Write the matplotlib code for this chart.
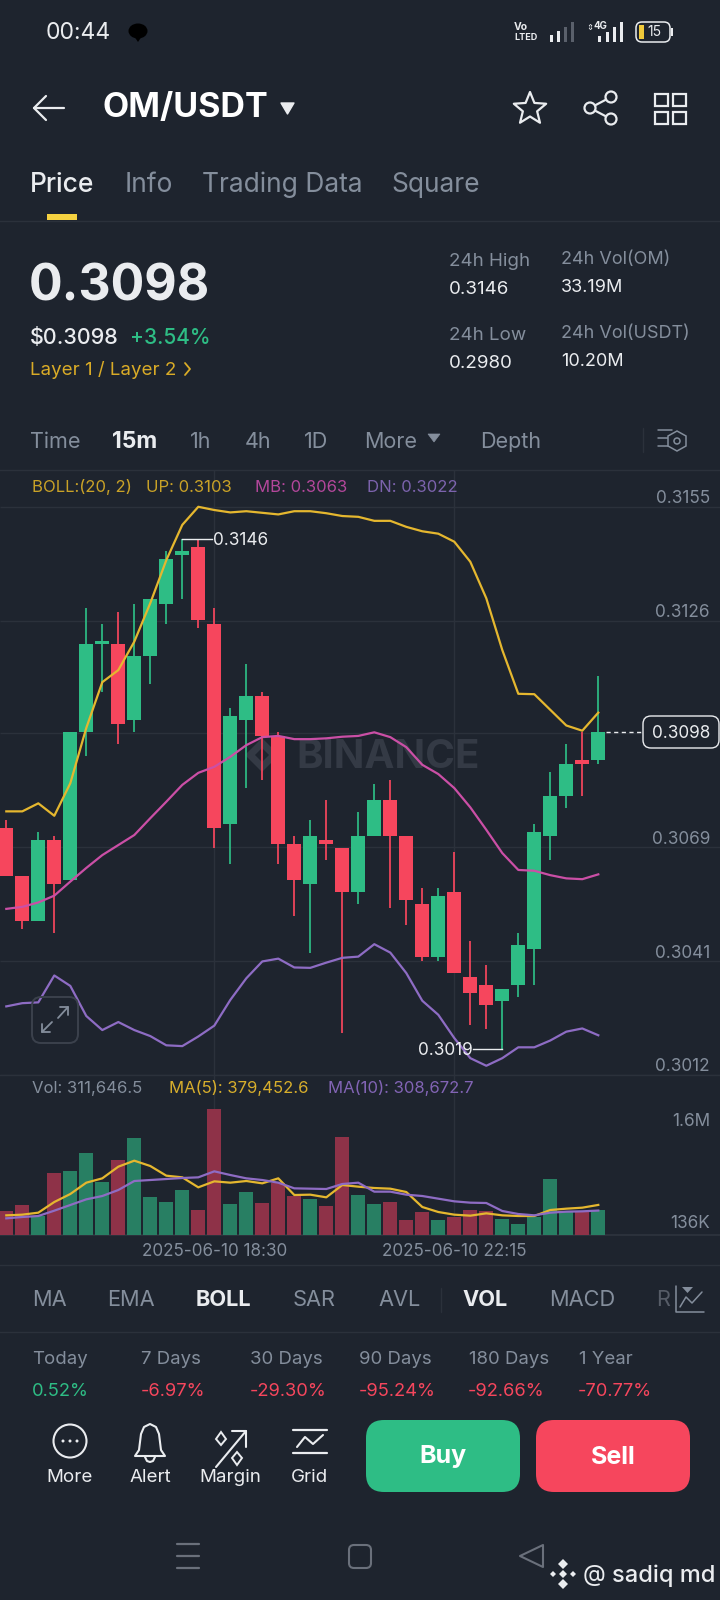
import numpy as np
import matplotlib
matplotlib.use("Agg")
import matplotlib.pyplot as plt
from matplotlib.patches import FancyBboxPatch, Polygon, Circle, Rectangle, Ellipse

plt.rcParams['font.family'] = ['Inter', 'DejaVu Sans']

# ---------- data ----------
opens  = [.3074,.3062,.3051,.3071,.3061,.3098,.3120,.3120,.3101,.3117,.3130,.3142,.3144,.3125,.3075,.3101,.3107,.3097,.3070,.3060,.3071,.3069,.3058,.3072,.3081,.3072,.3055,.3042,.3058,.3037,.3035,.3031,.3035,.3044,.3072,.3082,.3091,.3091]
highs  = [.3076,.3062,.3073,.3072,.3098,.3129,.3125,.3128,.3130,.3131,.3143,.3146,.3146,.3129,.3104,.3115,.3108,.3098,.3072,.3076,.3081,.3069,.3078,.3085,.3086,.3072,.3059,.3059,.3068,.3046,.3040,.3034,.3048,.3075,.3088,.3095,.3098,.3112]
lows   = [.3062,.3049,.3051,.3048,.3061,.3092,.3108,.3095,.3098,.3110,.3125,.3131,.3124,.3069,.3065,.3084,.3086,.3065,.3052,.3043,.3066,.3023,.3055,.3072,.3054,.3050,.3041,.3041,.3038,.3025,.3024,.3019,.3032,.3035,.3066,.3079,.3082,.3090]
closes = [.3062,.3051,.3071,.3060,.3098,.3120,.3120,.3100,.3117,.3131,.3141,.3143,.3126,.3074,.3102,.3107,.3097,.3070,.3061,.3072,.3070,.3058,.3072,.3081,.3072,.3056,.3042,.3057,.3038,.3033,.3030,.3034,.3045,.3073,.3082,.3090,.3090,.3098]
boll_up = [.30782,.30782,.30802,.30771,.30852,.30990,.31104,.31134,.31205,.31301,.31408,.31496,.31541,.31533,.31527,.31530,.31526,.31522,.31530,.31530,.31525,.31518,.31516,.31506,.31506,.31491,.31480,.31474,.31454,.31404,.31313,.31184,.31075,.31074,.31035,.30996,.30983,.31028]
boll_mb = [.30539,.30544,.30555,.30572,.30607,.30641,.30673,.30698,.30723,.30765,.30806,.30848,.30878,.30893,.30918,.30947,.30967,.30970,.30962,.30962,.30964,.30968,.30970,.30979,.30967,.30942,.30898,.30875,.30840,.30792,.30736,.30678,.30636,.30634,.30623,.30615,.30613,.30625]
boll_dn = [.30296,.30304,.30306,.30373,.30347,.30272,.30237,.30257,.30237,.30222,.30199,.30197,.30221,.30248,.30312,.30366,.30408,.30415,.30393,.30392,.30405,.30417,.30420,.30451,.30430,.30379,.30310,.30275,.30217,.30167,.30148,.30167,.30194,.30194,.30211,.30233,.30241,.30224]
volume = [298555,382655,243890,782130,803155,1030225,672800,946125,1219450,483575,412090,563470,315375,1589490,395270,546650,407885,651775,491985,458345,365835,1240475,504600,386860,412090,185020,290145,189225,231275,315375,302760,206045,138765,231275,706440,294350,285940,311646.5]
vol_ma5 = [248000,256500,281700,416300,517200,660200,714900,862000,937700,870400,748500,727500,601300,677000,660200,681200,651800,714900,504600,508800,475200,630800,609700,592900,584500,542400,353200,290100,256500,243900,273300,248100,239700,239700,315400,332200,344800,379452.6]
vol_ma10 = [210300,227100,239700,307000,378500,449900,492000,567700,681200,693800,706400,719100,727500,803200,756900,714900,693800,660200,588700,584500,580300,643400,660200,546700,546700,508800,492000,458300,424700,407900,403700,302800,264900,248100,281700,294400,298600,308672.7]
price_ticks = [.31541,.31257,.30692,.30408,.30125]
price_labels = ["0.3155","0.3126","0.3069","0.3041","0.3012"]
last_price = .3098
date_idx = [13, 28]
date_labels = ["2025-06-10 18:30","2025-06-10 22:15"]

BG='#1e242e'; GRID='#2b313b'; GREY='#848e9c'; DIM='#6f7785'; WHITE='#eaecef'
GREEN='#2ebd85'; RED='#f6465d'; VGREEN='#287f63'; VRED='#8e3248'
YEL='#e5b72f'; MAG='#cb4fa6'; PUR='#8e6cc4'

W,H=720,1600
fig=plt.figure(figsize=(W/100,H/100),dpi=100,facecolor=BG)
def axpx(x0,y0,x1,y1,z):
    a=fig.add_axes([x0/W,1-y1/H,(x1-x0)/W,(y1-y0)/H],zorder=z)
    a.patch.set_visible(False); a.set_axis_off()
    return a

back=axpx(0,0,W,H,0); back.set_xlim(0,W); back.set_ylim(H,0)
main=axpx(0,470,W,1075,1)
volax=axpx(0,1075,W,1235,1)
ui=axpx(0,0,W,H,2); ui.set_xlim(0,W); ui.set_ylim(H,0)

# ---------- main chart ----------
X=np.arange(len(opens))
xlim=(-6.3/16,(W-6.3)/16)
main.set_xlim(*xlim); main.set_ylim(.301250,.316327)
volax.set_xlim(*xlim); volax.set_ylim(0,2018720)

for a in (main,volax):
    for d in date_idx:
        a.axvline(d,color=GRID,lw=1,zorder=1)
main.hlines(price_ticks+[.30977],*xlim,color=GRID,lw=1,zorder=1)
volax.axhline(0,color=GRID,lw=1.5,zorder=1,clip_on=False)

cols=[GREEN if c>=o else RED for o,c in zip(opens,closes)]
main.vlines(X,lows,highs,colors=cols,lw=1.25,zorder=3)
bott=[min(o,c) for o,c in zip(opens,closes)]
hts=[max(abs(c-o),.00006) for o,c in zip(opens,closes)]
main.bar(X,hts,bottom=bott,width=.875,color=cols,zorder=3)
main.plot(X,boll_up,color=YEL,lw=1.6,zorder=4)
main.plot(X,boll_mb,color=MAG,lw=1.6,zorder=4)
main.plot(X,boll_dn,color=PUR,lw=1.6,zorder=4)

for v,l in zip(price_ticks,price_labels):
    main.annotate(l,xy=(710/W,v),xycoords=main.get_yaxis_transform(),xytext=(0,8),
                  textcoords='offset pixels',ha='right',va='center',color=GREY,fontsize=12.4,zorder=5)

# high / low markers
hi_i=int(np.argmax(highs))
lo_i=int(np.argmin(lows))
main.annotate("0.3146",xy=(hi_i,highs[hi_i]),xytext=(hi_i+1.9,highs[hi_i]-.00004),color=WHITE,fontsize=12.4,
              va='center',ha='left',zorder=6)
main.plot([hi_i,hi_i+1.85],[highs[hi_i]]*2,color=WHITE,lw=1,zorder=6)
main.annotate("0.3019",xy=(lo_i,lows[lo_i]),xytext=(lo_i-1.87,lows[lo_i]-.00004),color=WHITE,fontsize=12.4,
              va='center',ha='right',zorder=6)
main.plot([lo_i,lo_i-1.85],[lows[lo_i]]*2,color=WHITE,lw=1,zorder=6)

# ---------- volume ----------
vcols=[VGREEN if c>=o else VRED for o,c in zip(opens,closes)]
volax.bar(X,volume,width=.875,color=vcols,zorder=2)
volax.plot(X,vol_ma5,color=YEL,lw=1.6,zorder=4)
volax.plot(X,vol_ma10,color=PUR,lw=1.6,zorder=4)

# ---------- helpers ----------
def T(x,y,s,size=12,c=GREY,w='normal',ha='left',a=ui,z=5):
    a.text(x,y+2,s,fontsize=size,color=c,fontweight=w,ha=ha,va='center',zorder=z)
def L(xs,ys,c=WHITE,lw=1.4,a=ui,z=4,**k):
    a.plot(xs,ys,color=c,lw=lw,solid_capstyle='round',solid_joinstyle='round',zorder=z,**k)
def RB(x0,y0,x1,y1,r,fc='none',ec='none',lw=1.0,a=ui,z=3):
    a.add_patch(FancyBboxPatch((x0+r,y0+r),x1-x0-2*r,y1-y0-2*r,boxstyle=f'round,pad={r},rounding_size={r}',
                               fc=fc,ec=ec,lw=lw,zorder=z))

# watermark
T(296,755,"BINANCE",29,'#343a45','bold',a=back)
back.add_patch(Polygon([[262,738],[279,755],[262,772],[245,755]],closed=True,fc='#343a45',ec='none'))
back.add_patch(Polygon([[262,748],[269,755],[262,762],[255,755]],closed=True,fc=BG,ec='none'))

# separators
for y in (221,470,1075,1265,1332):
    back.axhline(y,color=GRID,lw=1)

# status bar
T(46,31,"00:44",16.5,WHITE)
ui.add_patch(Ellipse((138,31),19,15,fc='#000000',ec='none',zorder=3))
ui.add_patch(Polygon([[134,36],[142,36],[138,42]],fc='#000000',ec='none',zorder=3))
T(514,25,"Vo",7.5,WHITE,'bold'); T(514,35,"LTED",6.5,WHITE,'bold')
for x,h,c in zip((550,557,564,571),(7,11,15,20),(WHITE,WHITE,'#5a606b','#5a606b')):
    ui.add_patch(Rectangle((x,42-h),3,h,fc=c,ec='none',zorder=3))
T(586,25,"⇕",6,WHITE); T(594,24,"4G",7,WHITE,'bold')
for x,h in zip((598,606,613,620),(6,10,15,20)):
    ui.add_patch(Rectangle((x,42-h),3,h,fc=WHITE,ec='none',zorder=3))
RB(636,22,670,42,6,ec=WHITE,lw=1.1)
ui.add_patch(Rectangle((639,25),5,14,fc='#f0c93a',ec='none',zorder=4))
ui.add_patch(Rectangle((671,28),1.5,8,fc=WHITE,ec='none',zorder=4))
T(654,30,"15",10,WHITE,ha='center')

# title row
L([34,64],[108,108],lw=1.6); L([46,34,46],[96,108,120],lw=1.6)
T(102,106,"OM/USDT",24.5,'#ffffff','bold')
ui.add_patch(Polygon([[281,103],[294,103],[287.5,114]],fc=WHITE,ec=WHITE,lw=1,joinstyle='round',zorder=4))
sx=[];sy=[]
for k in range(10):
    r=17 if k%2==0 else 7.5
    t=np.deg2rad(-90+36*k); sx.append(530+r*np.cos(t)); sy.append(109+r*np.sin(t))
ui.add_patch(Polygon(list(zip(sx,sy)),closed=True,fc='none',ec=WHITE,lw=1.6,joinstyle='round',zorder=4))
L([611,590,611],[97,108,119],lw=1.6)
for cx,cy in ((611,97),(590,108),(611,119)):
    ui.add_patch(Circle((cx,cy),5.5,fc=BG,ec=WHITE,lw=1.6,zorder=5))
for x0,y0 in ((655,94),(673,94),(655,112),(673,112)):
    ui.add_patch(Rectangle((x0,y0),12.5,12,fc='none',ec=WHITE,lw=1.6,zorder=4))

# tabs
T(30,183,"Price",19,WHITE,'medium')
T(125,183,"Info",19,GREY); T(202,183,"Trading Data",19,GREY); T(391,183,"Square",19,GREY)
ui.add_patch(Rectangle((47,214),30,6,fc='#f5d140',ec='none',zorder=4))

# price block
T(29,285,"0.3098",36,WHITE,'bold')
T(30,336,"$0.3098",15.5,WHITE,'medium'); T(130,336,"+3.54%",15,GREEN,'medium')
T(30,368,"Layer 1 / Layer 2",13.5,'#d9ab27')
L([185,190,185],[363,369,375],c='#d9ab27',lw=1.3)
T(449,260,"24h High",13.5,GREY); T(449,288,"0.3146",13.5,WHITE)
T(449,334,"24h Low",13.5,GREY); T(449,362,"0.2980",13.5,WHITE)
T(561,258,"24h Vol(OM)",13,GREY); T(561,286,"33.19M",13,WHITE)
T(561,331,"24h Vol(USDT)",13,GREY); T(561,359,"10.20M",13,WHITE)

# interval row
T(30,440,"Time",15.5,GREY); T(112,440,"15m",16.5,WHITE,'bold')
T(190,440,"1h",15.5,GREY); T(245,440,"4h",15.5,GREY); T(304,440,"1D",15.5,GREY)
T(364,440,"More",15.5,GREY)
ui.add_patch(Polygon([[428,434],[440,434],[434,442]],fc=GREY,ec=GREY,lw=.5,zorder=4))
T(480,440,"Depth",15.5,GREY)
L([643,643],[428,452],c=GRID,lw=1)
L([658,672],[430,430],c=GREY,lw=1.1); L([658,668],[438,438],c=GREY,lw=1.1); L([658,672],[446,446],c=GREY,lw=1.1)
ui.add_patch(Polygon([[677,431],[686,436],[686,446],[677,451],[668,446],[668,436]],fc=BG,ec=GREY,lw=1.1,zorder=4))
ui.add_patch(Circle((677,441),3,fc=BG,ec=GREY,lw=1.1,zorder=5))

# chart headers
T(32,485,"BOLL:(20, 2)",12,'#c9a227'); T(146,485,"UP: 0.3103",12,'#c9a227')
T(255,485,"MB: 0.3063",12,'#b3479b'); T(367,485,"DN: 0.3022",12,'#7c63ad')
T(32,1086,"Vol: 311,646.5",12,GREY); T(169,1086,"MA(5): 379,452.6",12,'#d7ae2c')
T(328,1086,"MA(10): 308,672.7",12,'#8264b5')

# current price tag
ui.plot([606,643],[732,732],color=WHITE,lw=1,ls=(0,(3,2.5)),zorder=4)
RB(643,716,719,748,8,fc=BG,ec=WHITE,lw=1)
T(710,731,"0.3098",12.4,WHITE,ha='right')

# expand button
RB(32,997,78,1043,9,ec='#3b414c',lw=1.4)
L([58,68],[1018,1007],c=GREY,lw=1.3); L([60,68,68],[1007,1007,1015],c=GREY,lw=1.3)
L([42,52],[1032,1022],c=GREY,lw=1.3); L([42,42,50],[1024,1032,1032],c=GREY,lw=1.3)

# volume labels
T(710,1120,"1.6M",12.4,GREY,ha='right'); T(710,1222,"136K",12.4,GREY,ha='right')
for d,l in zip(date_idx,date_labels):
    T(6.3+16*d,1250,l,12.3,GREY,ha='center')

# indicator row
for x,s,w,c in ((32,"MA",'normal',GREY),(107,"EMA",'normal',GREY),(196,"BOLL",'bold',WHITE),(293,"SAR",'normal',GREY),
                (378,"AVL",'normal',GREY),(462,"VOL",'bold',WHITE),(549,"MACD",'normal',GREY),(656,"R",'normal','#565c67')):
    T(x,1298,s,15.7,c,w)
L([441,441],[1288,1312],c=GRID,lw=1)
L([676,676,704],[1286,1312,1312],c=GREY,lw=1.1); L([680,686,692,702],[1307,1297,1303,1292],c=GREY,lw=1.1)
ui.add_patch(Polygon([[682,1287],[693,1287],[687.5,1293]],fc=GREY,ec='none',zorder=4))

# period performance
for x,s in ((32,"Today"),(141,"7 Days"),(250,"30 Days"),(359,"90 Days"),(469,"180 Days"),(579,"1 Year")):
    T(x,1358,s,13.4,GREY)
T(32,1390,"0.52%",13.2,GREEN)
for x,s in ((141,"-6.97%"),(250,"-29.30%"),(359,"-95.24%"),(468,"-92.66%"),(578,"-70.77%")):
    T(x,1390,s,13.2,RED)

# bottom toolbar
ui.add_patch(Circle((70,1441),16.5,fc='none',ec=WHITE,lw=1.5,zorder=4))
for x in (63,70,77):
    ui.add_patch(Circle((x,1441),1.5,fc=WHITE,ec='none',zorder=4))
bx=[135,139,141,144,150,156,159,161,165,135]; by=[1456,1450,1434,1427,1424,1427,1434,1450,1456,1456]
ui.add_patch(Polygon(list(zip(bx,by)),closed=True,fc='none',ec=WHITE,lw=1.5,joinstyle='round',zorder=4))
L([145,147,150,153,155],[1457,1461,1462,1461,1457],lw=1.5)
L([216,246],[1467,1431],lw=1.5); L([232,246,246],[1431,1431,1447],lw=1.5)
ui.add_patch(Polygon([[221,1432],[226,1439],[221,1445],[216,1439]],fc='none',ec=WHITE,lw=1.4,zorder=4))
ui.add_patch(Polygon([[237,1452],[242,1458],[237,1465],[232,1458]],fc='none',ec=WHITE,lw=1.4,zorder=4))
L([293,327],[1430,1430],lw=1.6); L([293,327],[1453,1453],lw=1.6)
L([297,305,313,323],[1447,1437,1444,1435],lw=1.5)
for x,s in ((70,"More"),(150,"Alert"),(230,"Margin"),(310,"Grid")):
    T(x,1475,s,13.5,WHITE,ha='center')
RB(366,1420,520,1492,18,fc=GREEN); RB(536,1420,690,1492,18,fc=RED)
T(443,1455,"Buy",18,'#ffffff','bold',ha='center'); T(613,1455,"Sell",18,'#ffffff','bold',ha='center')

# nav bar
for y in (1544,1556,1568):
    L([177,199],[y,y],c='#6a707b',lw=1.6)
RB(349,1545,371,1568,5,ec='#6a707b',lw=1.5)
ui.add_patch(Polygon([[543,1545],[520,1556],[543,1567]],closed=True,fc='none',ec='#6a707b',lw=1.5,joinstyle='round',zorder=4))

# credit
for cx,cy,s in ((563,1564,5),(563,1584,5),(553,1574,3),(573,1574,3),(563,1574,4)):
    ui.add_patch(Polygon([[cx,cy-s],[cx+s,cy],[cx,cy+s],[cx-s,cy]],fc=WHITE,ec='none',zorder=4))
T(583,1573,"@",17,WHITE); T(612,1574,"sadiq md",17,WHITE,'medium')

fig.savefig("out.png",dpi=100,facecolor=BG)
